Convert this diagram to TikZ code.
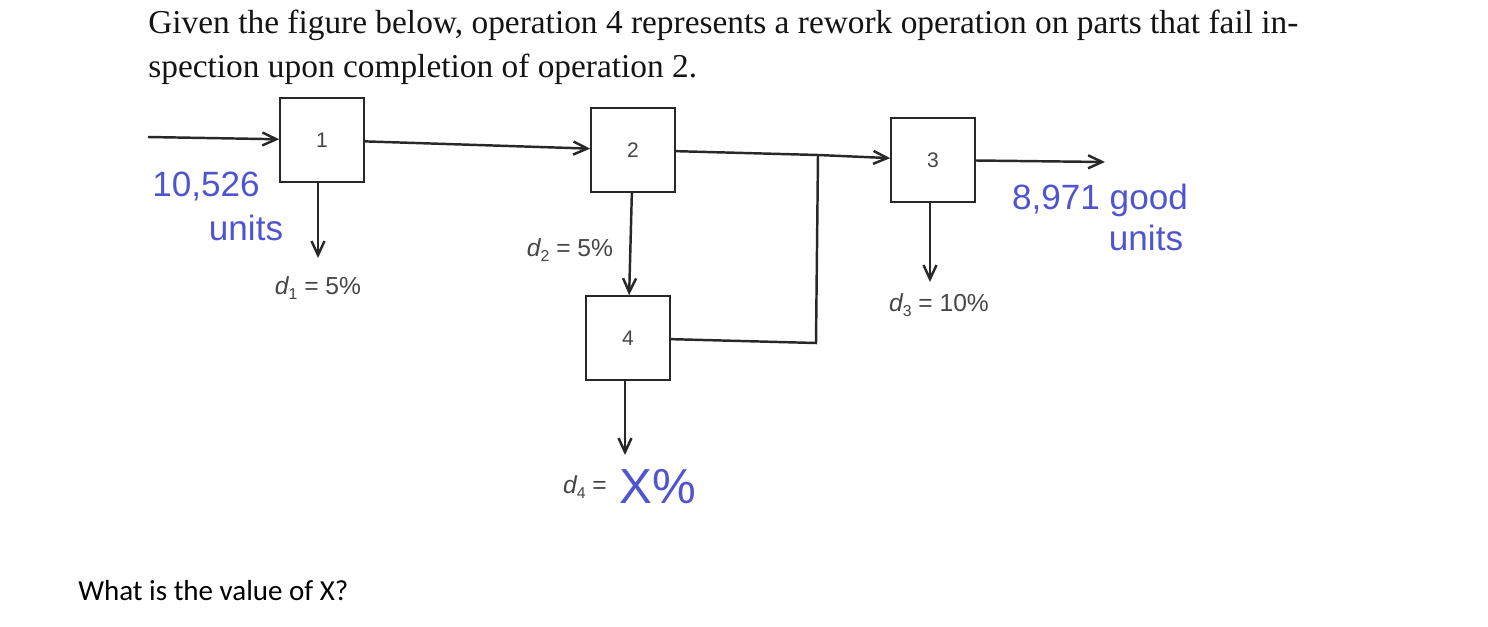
\documentclass[tikz,border=0pt]{standalone}
\usepackage{fontspec}
\setmainfont{Liberation Serif}
\newfontfamily\labelfont{Liberation Sans}
\newfontfamily\notefont{Carlito}
\usetikzlibrary{arrows.meta, positioning}
\definecolor{linegray}{RGB}{40, 40, 40}
\definecolor{labelgray}{RGB}{70, 70, 70}
\definecolor{penblue}{RGB}{80, 85, 205}
\definecolor{textdark}{RGB}{20, 20, 20}
\newcommand{\drate}[1]{{\itshape d}\raisebox{-0.35ex}{\fontsize{9}{10}\selectfont #1}}

\begin{document}
\begin{tikzpicture}[
    x=0.02cm, y=-0.02cm,
    opbox/.style={rectangle, draw=linegray, line width=0.9pt, minimum size=1.68cm, inner sep=0pt, font=\fontsize{12}{14}\labelfont, text=labelgray},
    flow/.style={-{Straight Barb[length=2.8mm, width=2.6mm]}, line width=1.4pt, color=linegray},
    link/.style={line width=1.4pt, color=linegray},
    rate/.style={font=\fontsize{14}{16}\labelfont, text=labelgray},
    pen/.style={font=\fontsize{20}{22}\labelfont, text=penblue},
]
\useasboundingbox (0,0) rectangle (1488,626);

% Question text
\node[anchor=base west, inner sep=0pt, font=\fontsize{19}{21}\selectfont, text=textdark] (q1) at (148,33) {Given the figure below, operation 4 represents a rework operation on parts that fail in-};
\node[anchor=base west, inner sep=0pt, font=\fontsize{19}{21}\selectfont, text=textdark] (q2) at (148,77) {spection upon completion of operation 2.};

% Operations
\node[opbox] (op1) at (322,140) {1};
\node[opbox] (op2) at (633,150) {2};
\node[opbox] (op3) at (933,160) {3};
\node[opbox] (op4) at (628,338) {4};

% Free ends
\coordinate (in) at (148,137);
\coordinate (out) at (1105,162);
\coordinate (join) at (818,155);
\coordinate (bend) at (816,343);
\coordinate (scrap1) at (318,258);
\coordinate (scrap3) at (930,282);
\coordinate (scrap4) at (625,455);

% Main line
\draw[flow] (in) -- (op1);
\draw[flow] (op1) -- (op2);
\draw[flow] (op2) -- (join) -- (op3);
\draw[flow] (op3) -- (out);

% Rework loop
\draw[flow] (op2) -- (op4);
\draw[link] (op4) -- (bend) -- (join);

% Defects
\draw[flow] (op1.south -| scrap1) -- (scrap1);
\draw[flow] (op3.south -| scrap3) -- (scrap3);
\draw[flow] (op4.south -| scrap4) -- (scrap4);

\node[rate] (d1) at (318,288) {\drate{1} = 5\%};
\node[rate] (d2) at (570,250) {\drate{2} = 5\%};
\node[rate] (d3) at (939,305) {\drate{3} = 10\%};
\node[rate, anchor=east] (d4) at (613,487) {\drate{4} =};
\node[pen, right=0pt of d4, font=\fontsize{28}{30}\labelfont] (x) {X\%};

% Handwritten notes
\node[pen] (n1) at (206,186) {10,526};
\node[pen] (n2) at (246,228) {units};
\node[pen] (n3) at (1100,200) {8,971 good};
\node[pen] (n4) at (1146,238) {units};

% Question
\node[anchor=base west, inner sep=0pt, font=\fontsize{16.5}{18}\notefont] (ask) at (78,600) {What is the value of X?};

\end{tikzpicture}
\end{document}
